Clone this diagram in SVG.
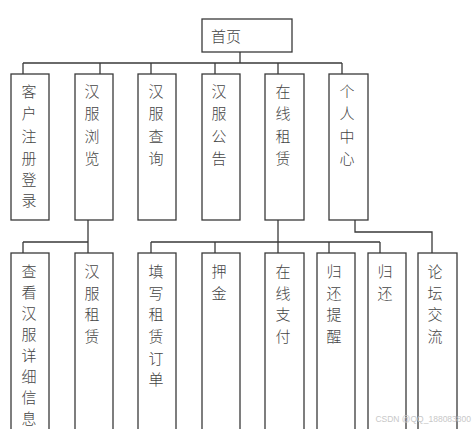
<svg xmlns="http://www.w3.org/2000/svg" width="474" height="429" viewBox="0 0 474 429">
<style>
.box{fill:#fff;stroke:#3a3a3a;stroke-width:1.3}
.ln{fill:none;stroke:#3a3a3a;stroke-width:1.3}
.t{font-family:"Noto Sans CJK SC","Noto Sans CJK JP",sans-serif;font-size:15px;fill:#444;text-anchor:middle;dominant-baseline:central;font-weight:300}
.wm{font-family:"Liberation Sans",Arial,sans-serif;font-size:8.5px;fill:#c8c8c8;text-anchor:end}
</style>
<rect width="474" height="429" fill="#fff"/>
<g id="connectors">
<path class="ln" d="M240 52V63M23 63H342M23 63V74M100 63V74M151 63V74M215 63V74M278 63V74M342 63V74"/>
<path class="ln" d="M88 220V242M23 242H88M23 242V253M88 242V253"/>
<path class="ln" d="M278 220V242M151 242H380M151 242V253M215 242V253M278 242V253M329 242V253M380 242V253"/>
<path class="ln" d="M355 220V232H432V253"/>
</g>
<g id="home"><rect class="box" x="202" y="19" width="90" height="33"/><text class="t" x="226" y="35">首页</text></g>
<g id="n1"><rect class="box" x="11" y="74" width="38" height="146"/><text class="t" x="29"><tspan x="29" y="90">客</tspan><tspan x="29" y="112">户</tspan><tspan x="29" y="135">注</tspan><tspan x="29" y="157">册</tspan><tspan x="29" y="178">登</tspan><tspan x="29" y="199">录</tspan></text></g>
<g id="n2"><rect class="box" x="75" y="74" width="38" height="146"/><text class="t" x="92"><tspan x="92" y="90">汉</tspan><tspan x="92" y="112">服</tspan><tspan x="92" y="135">浏</tspan><tspan x="92" y="157">览</tspan></text></g>
<g id="n3"><rect class="box" x="138" y="74" width="38" height="146"/><text class="t" x="156"><tspan x="156" y="90">汉</tspan><tspan x="156" y="112">服</tspan><tspan x="156" y="135">查</tspan><tspan x="156" y="157">询</tspan></text></g>
<g id="n4"><rect class="box" x="202" y="74" width="38" height="146"/><text class="t" x="219"><tspan x="219" y="90">汉</tspan><tspan x="219" y="112">服</tspan><tspan x="219" y="135">公</tspan><tspan x="219" y="157">告</tspan></text></g>
<g id="n5"><rect class="box" x="265" y="74" width="39" height="146"/><text class="t" x="283"><tspan x="283" y="90">在</tspan><tspan x="283" y="112">线</tspan><tspan x="283" y="135">租</tspan><tspan x="283" y="157">赁</tspan></text></g>
<g id="n6"><rect class="box" x="329" y="74" width="39" height="146"/><text class="t" x="347"><tspan x="347" y="90">个</tspan><tspan x="347" y="112">人</tspan><tspan x="347" y="135">中</tspan><tspan x="347" y="157">心</tspan></text></g>
<g id="m1"><rect class="box" x="11" y="253" width="38" height="190"/><text class="t" x="29"><tspan x="29" y="270">查</tspan><tspan x="29" y="291">看</tspan><tspan x="29" y="312">汉</tspan><tspan x="29" y="333">服</tspan><tspan x="29" y="354">详</tspan><tspan x="29" y="375">细</tspan><tspan x="29" y="396">信</tspan><tspan x="29" y="417">息</tspan></text></g>
<g id="m2"><rect class="box" x="75" y="253" width="38" height="190"/><text class="t" x="92"><tspan x="92" y="270">汉</tspan><tspan x="92" y="292">服</tspan><tspan x="92" y="313">租</tspan><tspan x="92" y="335">赁</tspan></text></g>
<g id="m3"><rect class="box" x="138" y="253" width="38" height="190"/><text class="t" x="156"><tspan x="156" y="270">填</tspan><tspan x="156" y="292">写</tspan><tspan x="156" y="313">租</tspan><tspan x="156" y="335">赁</tspan><tspan x="156" y="357">订</tspan><tspan x="156" y="378">单</tspan></text></g>
<g id="m4"><rect class="box" x="202" y="253" width="38" height="190"/><text class="t" x="219"><tspan x="219" y="270">押</tspan><tspan x="219" y="292">金</tspan></text></g>
<g id="m5"><rect class="box" x="265" y="253" width="39" height="190"/><text class="t" x="283"><tspan x="283" y="270">在</tspan><tspan x="283" y="292">线</tspan><tspan x="283" y="313">支</tspan><tspan x="283" y="335">付</tspan></text></g>
<g id="m6"><rect class="box" x="317" y="253" width="38" height="190"/><text class="t" x="334"><tspan x="334" y="270">归</tspan><tspan x="334" y="292">还</tspan><tspan x="334" y="313">提</tspan><tspan x="334" y="335">醒</tspan></text></g>
<g id="m7"><rect class="box" x="368" y="253" width="38" height="190"/><text class="t" x="385"><tspan x="385" y="270">归</tspan><tspan x="385" y="292">还</tspan></text></g>
<g id="m8"><rect class="box" x="418" y="253" width="39" height="190"/><text class="t" x="435"><tspan x="435" y="270">论</tspan><tspan x="435" y="292">坛</tspan><tspan x="435" y="313">交</tspan><tspan x="435" y="335">流</tspan></text></g>
<text class="wm" x="471" y="422">CSDN @QQ_188083800</text>
</svg>
